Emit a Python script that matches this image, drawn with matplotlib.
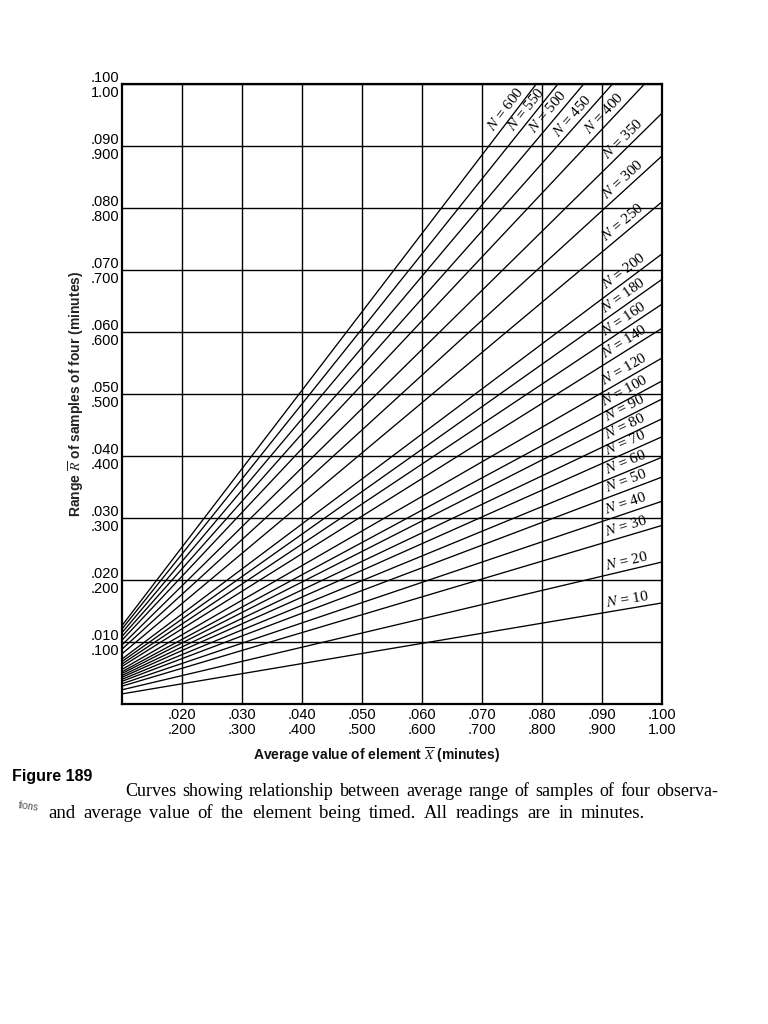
import numpy as np
import matplotlib.pyplot as plt

# values
n_values = [10, 20, 30, 40, 50, 60, 70, 80, 90, 100, 120, 140, 160, 180, 200,
            250, 300, 350, 400, 450, 500, 550, 600]
# range R at X = .100 for each line (lines run through the origin)
r_at_right = [0.0163, 0.0229, 0.0288, 0.0327, 0.0366, 0.0398, 0.0431, 0.0460,
              0.0492, 0.0521, 0.0558, 0.0606, 0.0645, 0.0685, 0.0726,
              0.0810, 0.0884, 0.0953, 0.1030, 0.1090, 0.1150, 0.1210, 0.1265]
# where each "N = .." label sits along its line (X, minutes)
label_x = [0.0945] * 18 + [0.0915, 0.0862, 0.0822, 0.0785, 0.0752]
x_ends = [0.0, 0.100]

x_ticks = [0.02, 0.03, 0.04, 0.05, 0.06, 0.07, 0.08, 0.09, 0.10]
x_ticklabels = [".020\n.200", ".030\n.300", ".040\n.400", ".050\n.500", ".060\n.600",
                ".070\n.700", ".080\n.800", ".090\n.900", ".100\n1.00"]
y_ticks = [0.01, 0.02, 0.03, 0.04, 0.05, 0.06, 0.07, 0.08, 0.09, 0.10]
y_ticklabels = [".010\n.100", ".020\n.200", ".030\n.300", ".040\n.400", ".050\n.500",
                ".060\n.600", ".070\n.700", ".080\n.800", ".090\n.900", ".100\n1.00"]

caption_1 = "Curves showing relationship between average range of samples of four observa-"
caption_2 = "and average value of the element being timed. All readings are in minutes."

plt.rcParams['mathtext.fontset'] = 'stix'

fig = plt.figure(figsize=(7.68, 10.24), dpi=100)
ax = fig.add_axes([122 / 768, 1 - 704 / 1024, 540 / 768, 620 / 1024])
ax.set_xlim(0.01, 0.10)
ax.set_ylim(0.0, 0.10)

# grid
ax.set_xticks(x_ticks)
ax.set_yticks(y_ticks)
ax.grid(True, color='black', linewidth=1.0)
for s in ax.spines.values():
    s.set_linewidth(1.6)
ax.tick_params(length=0)
ax.set_xticklabels(x_ticklabels, fontfamily='Liberation Sans', fontsize=10.5, linespacing=1.05)
ax.set_yticklabels(y_ticklabels, fontfamily='Liberation Sans', fontsize=10.5, linespacing=1.05)
ax.tick_params(axis='x', pad=3)
ax.tick_params(axis='y', pad=2)

# the N lines
for n, r in zip(n_values, r_at_right):
    ax.plot(x_ends, [0.0, r], color='black', linewidth=0.95)

fig.canvas.draw()
for n, r, lx in zip(n_values, r_at_right, label_x):
    ly = r * lx / x_ends[1]
    p0 = ax.transData.transform((0.05, 0.05 * r / x_ends[1]))
    p1 = ax.transData.transform((0.10, r))
    ang = np.degrees(np.arctan2(p1[1] - p0[1], p1[0] - p0[0]))
    off = 1.5
    dx = -np.sin(np.radians(ang)) * off
    dy = np.cos(np.radians(ang)) * off
    ax.annotate(r"$N$ = %d" % n, xy=(lx, ly), xytext=(dx, dy), textcoords='offset points',
                rotation=ang, rotation_mode='anchor', ha='center', va='bottom',
                fontfamily='Liberation Serif', fontsize=11)

fig.text(377 / 768, 1 - 755 / 1024, r"Average value of element $\overline{X}$ (minutes)",
         fontfamily='Liberation Sans', fontsize=10, fontweight='bold', ha='center', va='center',
         color='#111111')
fig.text(76 / 768, 1 - 394 / 1024, r"Range $\overline{R}$ of samples of four (minutes)",
         rotation=90, ha='center', va='center', fontfamily='Liberation Sans',
         fontsize=10, fontweight='bold', color='#222222')

# caption
fig.text(12 / 768, 1 - 777 / 1024, "Figure 189", fontfamily='Liberation Sans', fontsize=11.5,
         fontweight='bold', ha='left', va='center')
fig.text(18 / 768, 1 - 806 / 1024, "tions", fontfamily='Liberation Sans', fontsize=7,
         color='#555555', ha='left', va='center', rotation=-8)


def justified(line, x0, x1, y, size):
    # spread the words of one caption line between x0 and x1 (pixels)
    rend = fig.canvas.get_renderer()
    words = line.split()
    arts = [fig.text(0, 1 - y / 1024, w, fontfamily='Liberation Serif', fontsize=size,
                     ha='left', va='center') for w in words]
    widths = [a.get_window_extent(rend).width for a in arts]
    gap = (x1 - x0 - sum(widths)) / (len(words) - 1)
    x = x0
    for a, w in zip(arts, widths):
        a.set_x(x / 768)
        x += w + gap


justified(caption_1, 125, 718, 791, 13)
justified(caption_2, 48, 645, 814, 13.5)

fig.savefig('out.png', dpi=100, facecolor='white')
